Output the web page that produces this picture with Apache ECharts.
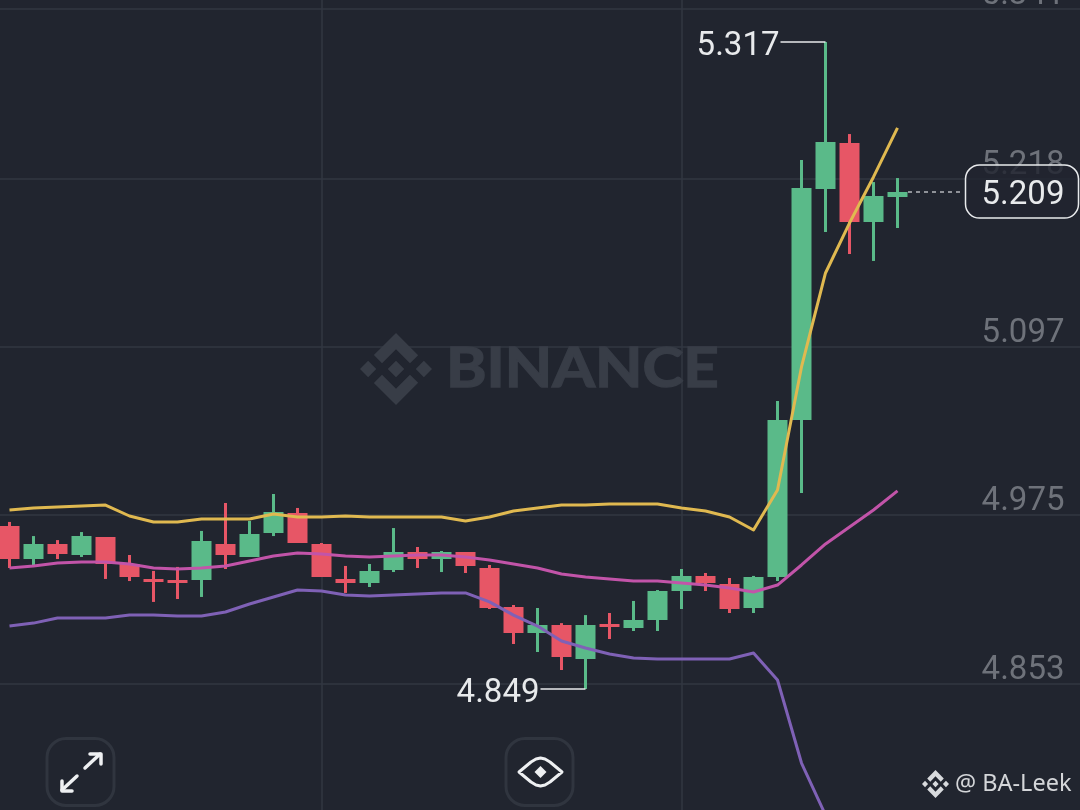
<!DOCTYPE html>
<html>
<head>
<meta charset="utf-8">
<style>html,body{margin:0;padding:0;background:#21252f}#c{width:1080px;height:810px}</style>
<script src="https://cdn.jsdelivr.net/npm/echarts@6/dist/echarts.min.js"></script>
</head>
<body>
<div id="c"></div>
<script>
// [open, close, low, high]
const candles = [
[4.9672,4.9433,4.9368,4.9701],[4.9433,4.9542,4.9376,4.9599],[4.9542,4.9469,4.9433,4.9570],[4.9462,4.9599,4.9448,4.9628],
[4.9592,4.9397,4.9289,4.9592],[4.9397,4.9303,4.9274,4.9462],[4.9289,4.9267,4.9123,4.9347],[4.9282,4.9260,4.9144,4.9376],
[4.9282,4.9563,4.9159,4.9636],[4.9542,4.9462,4.9361,4.9838],[4.9448,4.9614,4.9448,4.9708],[4.9621,4.9773,4.9599,4.9903],
[4.9766,4.9549,4.9549,4.9802],[4.9542,4.9303,4.9303,4.9549],[4.9289,4.9260,4.9188,4.9383],[4.9260,4.9347,4.9231,4.9397],
[4.9354,4.9484,4.9339,4.9657],[4.9484,4.9433,4.9368,4.9520],[4.9433,4.9484,4.9339,4.9491],[4.9484,4.9383,4.9332,4.9484],
[4.9368,4.9079,4.9072,4.9390],[4.9086,4.8898,4.8819,4.9101],[4.8898,4.8956,4.8761,4.9079],[4.8956,4.8725,4.8631,4.8970],
[4.8711,4.8956,4.8494,4.9028],[4.8963,4.8941,4.8855,4.9043],[4.8934,4.8992,4.8913,4.9130],[4.8992,4.9202,4.8913,4.9209],
[4.9202,4.9311,4.9072,4.9361],[4.9311,4.9260,4.9202,4.9332],[4.9253,4.9072,4.9043,4.9296],[4.9079,4.9303,4.9043,4.9311],
[4.9303,5.0438,4.9274,5.0575],[5.0438,5.2114,4.9910,5.2316],[5.2107,5.2446,5.1796,5.3169],[5.2439,5.1868,5.1637,5.2504],
[5.1868,5.2056,5.1587,5.2157],[5.2049,5.2085,5.1825,5.2186]
];
const upperBand = [4.9787,4.9802,4.9809,4.9816,4.9823,4.9744,4.9701,4.9701,4.9722,4.9722,4.9722,4.9758,4.9737,4.9737,4.9744,4.9737,4.9737,4.9737,4.9737,4.9708,4.9737,4.9780,4.9802,4.9823,4.9823,4.9831,4.9831,4.9831,4.9802,4.9780,4.9737,4.9643,4.9932,5.0821,5.1500,5.1861,5.2194,5.2548];
const middleBand = [4.9368,4.9383,4.9404,4.9412,4.9412,4.9397,4.9368,4.9361,4.9368,4.9383,4.9419,4.9455,4.9477,4.9469,4.9455,4.9448,4.9455,4.9462,4.9462,4.9448,4.9426,4.9397,4.9368,4.9325,4.9303,4.9289,4.9274,4.9274,4.9260,4.9245,4.9224,4.9195,4.9245,4.9390,4.9542,4.9664,4.9787,4.9925];
const lowerBand = [4.8949,4.8970,4.9007,4.9007,4.9007,4.9028,4.9028,4.9021,4.9021,4.9050,4.9108,4.9159,4.9209,4.9202,4.9173,4.9166,4.9173,4.9180,4.9188,4.9188,4.9123,4.9028,4.8949,4.8841,4.8790,4.8747,4.8718,4.8711,4.8711,4.8711,4.8711,4.8754,4.8559,4.7959,4.7583];
const priceTicks = [4.853,4.975,5.097,5.218,5.3406];
const verticalGridBars = [13,28];
const lastPrice = 5.209;
const watermarkText = 'BINANCE';
const creditText = '@ BA-Leek';
const barCount = 46;
const categories = Array.from({length:barCount},(_,i)=>String(i+1));

const BG='#21252f',GREEN='#5aba89',RED='#e75666',GRID='#323742',TXT='#e8eaec',AXIS='#6e727a';
const FONT='Roboto';
const FS=33;
const LOGO_POLYS=[
 [[38.73,53.2],[63.32,28.62],[87.92,53.22],[102.22,38.91],[63.32,0],[24.43,38.9]],
 [[0,63.31],[14.3,49],[28.61,63.31],[14.3,77.61]],
 [[38.73,73.41],[63.32,98],[87.92,73.4],[102.23,87.69],[63.33,126.6],[24.42,87.72]],
 [[98,63.31],[112.3,49],[126.61,63.3],[112.3,77.62]],
 [[77.83,63.3],[63.32,48.78],[48.81,63.28],[63.32,77.78]]
];
const logo=(x,y,w,h,fill,z)=>LOGO_POLYS.map(p=>({type:'polygon',z,silent:true,
  shape:{points:p.map(q=>[x+q[0]/126.61*w,y+q[1]/126.61*h])},style:{fill}}));

const highs=candles.map(c=>c[3]), lows=candles.map(c=>c[2]);
const maxHigh=Math.max(...highs), minLow=Math.min(...lows);
const lineSeries=(name,data,color,z)=>({name,type:'line',data,symbol:'none',smooth:false,z,silent:true,
  lineStyle:{color,width:3,cap:'butt',join:'round'},connectNulls:false});
const leader=(value,idx)=>({coord:[idx,value],value:value.toFixed(3),symbol:'rect',symbolSize:[45,1.5],symbolOffset:[-22.5,0],
  itemStyle:{color:TXT},label:{show:true,position:'left',distance:1,offset:[0,5],formatter:'{c}',color:TXT,fontFamily:FONT,fontSize:FS}});

const chart=echarts.init(document.getElementById('c'),null,{renderer:'canvas',width:1080,height:810});
const option={
  animation:false,backgroundColor:BG,
  grid:{left:-2.5,top:0,width:1104,height:810,containLabel:false,outerBoundsMode:'none'},
  xAxis:{type:'category',data:categories,boundaryGap:true,axisLine:{show:false},axisTick:{show:false},axisLabel:{show:false},splitLine:{show:false}},
  yAxis:{type:'value',position:'right',min:4.76195,max:5.34726,
    axisLine:{show:false},axisTick:{show:false},splitLine:{show:false},
    axisLabel:{show:true,inside:true,margin:37,customValues:priceTicks,color:AXIS,fontFamily:FONT,fontSize:FS,verticalAlign:'bottom',lineHeight:26,
      formatter:v=>v.toFixed(3)}},
  series:[
    {name:'grid',type:'line',data:[],z:1,silent:true,markLine:{silent:true,z:1,symbol:'none',precision:4,label:{show:false},
      lineStyle:{color:GRID,width:1.5,type:'solid'},
      data:verticalGridBars.map(i=>({xAxis:i})).concat(priceTicks.map(v=>({yAxis:v})))}},
    {name:'wicks',type:'candlestick',data:candles,barWidth:1,z:2,silent:true,
      itemStyle:{color:GREEN,color0:RED,borderColor:GREEN,borderColor0:RED,borderWidth:3},
      markPoint:{silent:true,z:8,data:[leader(maxHigh,highs.indexOf(maxHigh)),leader(minLow,lows.indexOf(minLow))]}},
    {name:'bodies',type:'candlestick',data:candles,barWidth:21,z:3,silent:true,
      itemStyle:{color:GREEN,color0:RED,borderColor:GREEN,borderColor0:RED,borderWidth:0}},
    lineSeries('lower',lowerBand,'#7f61b6',4),
    lineSeries('middle',middleBand,'#c254a9',5),
    lineSeries('upper',upperBand,'#e0b950',6)
  ]
};
chart.setOption(option);

const yLast=chart.convertToPixel({xAxisIndex:0,yAxisIndex:0},[37,candles[37][1]])[1];
const btn=(x)=>({type:'rect',shape:{x,y:738.5,width:67,height:67,r:19},style:{fill:'none',stroke:'#30353f',lineWidth:3},z:20});
const ico={stroke:'#eef0f2',lineWidth:3.5,fill:'none',lineCap:'round',lineJoin:'round'};
const pl=(points)=>({type:'polyline',shape:{points},style:ico,z:21});
chart.setOption({graphic:{elements:[
  ...logo(360,333,72,72,'#383d47',1),
  {type:'text',x:446,y:369,scaleX:1.1,z:1,style:{text:watermarkText,font:'700 56px Lato',fill:'#383d47',stroke:'#383d47',lineWidth:1.5,textAlign:'left',textVerticalAlign:'middle'}},
  btn(47),btn(506),
  pl([[85,768],[100,754]]),pl([[90,754],[101,754],[101,764]]),
  pl([[77,776],[62,790]]),pl([[62,781],[62,791],[72,791]]),
  {type:'polygon',z:21,shape:{points:[[519,772],[531,762],[536,759],[540.5,758],[545,759],[550,762],[562,772],[550,782],[545,785],[540.5,786],[536,785],[531,782]]},style:{stroke:'#eef0f2',lineWidth:3,fill:'none',lineJoin:'round'}},
  {type:'polygon',z:21,shape:{points:[[540.5,766],[546.5,772],[540.5,778],[534.5,772]]},style:{fill:'#eef0f2'}},
  ...logo(922,770,27,28,'#d8dadd',21),
  {type:'text',x:955,y:784,z:21,style:{text:creditText,font:'23.5px "Noto Sans"',fill:'#d4d6d9',textAlign:'left',textVerticalAlign:'middle'}},
  {type:'line',z:21,shape:{x1:908,y1:yLast,x2:963,y2:yLast},style:{stroke:'#b4b7bc',lineWidth:1.5,lineDash:[4,4]}},
  {type:'rect',z:22,shape:{x:965.5,y:yLast-27,width:113,height:53,r:14},style:{fill:'rgba(33,37,47,0.82)',stroke:TXT,lineWidth:1.5}},
  {type:'text',x:1023,y:yLast+4,z:23,style:{text:lastPrice.toFixed(3),font:FS+'px '+FONT,fill:TXT,textAlign:'center',textVerticalAlign:'middle'}}
]}});
</script>
</body>
</html>
